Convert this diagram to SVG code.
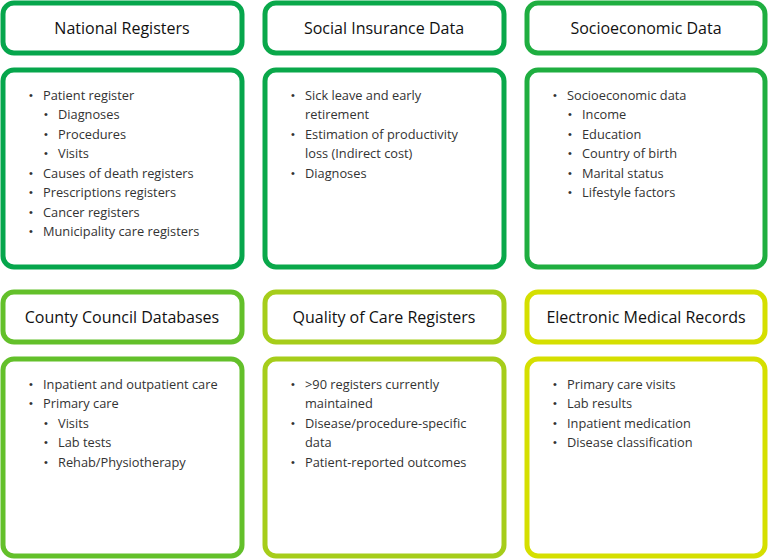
<svg xmlns="http://www.w3.org/2000/svg" width="768" height="559" viewBox="0 0 768 559">
<style>
rect{fill:#fff;stroke-width:5}
.h{font-family:"Open Sans",sans-serif;font-size:16px;fill:#111;text-anchor:middle}
.t{font-family:"Open Sans",sans-serif;font-size:12.8px;fill:#333}
.b{font-family:"Liberation Sans",sans-serif;font-size:11px;fill:#333}
</style>
<rect width="768" height="559" fill="#fff" stroke="none"/>
<g id="n1" stroke="#06a64c"><rect x="3" y="3" width="239" height="50" rx="11"/><rect x="3" y="70" width="239" height="197" rx="11"/></g>
<g id="n2" stroke="#0aa84a"><rect x="265" y="3" width="239" height="50" rx="11"/><rect x="265" y="70" width="239" height="197" rx="11"/></g>
<g id="n3" stroke="#1fae40"><rect x="527" y="3" width="238" height="50" rx="11"/><rect x="527" y="70" width="238" height="197" rx="11"/></g>
<g id="n4" stroke="#63c02a"><rect x="3" y="292" width="239" height="50" rx="11"/><rect x="3" y="359" width="239" height="197" rx="11"/></g>
<g id="n5" stroke="#a6cd1a"><rect x="265" y="292" width="239" height="50" rx="11"/><rect x="265" y="359" width="239" height="197" rx="11"/></g>
<g id="n6" stroke="#d5df00"><rect x="527" y="292" width="238" height="50" rx="11"/><rect x="527" y="359" width="238" height="197" rx="11"/></g>
<g id="connectors"/>
<g id="text">
<text class="h" x="122" y="34">National Registers</text>
<text class="h" x="384" y="34">Social Insurance Data</text>
<text class="h" x="646" y="34">Socioeconomic Data</text>
<text class="h" x="122" y="323">County Council Databases</text>
<text class="h" x="384" y="323">Quality of Care Registers</text>
<text class="h" x="646" y="323">Electronic Medical Records</text>

<g class="b">
<text x="29" y="99">•</text><text x="44" y="118">•</text><text x="44" y="138">•</text><text x="44" y="157">•</text><text x="29" y="177">•</text><text x="29" y="196">•</text><text x="29" y="216">•</text><text x="29" y="235">•</text>
<text x="291" y="99">•</text><text x="291" y="138">•</text><text x="291" y="177">•</text>
<text x="553" y="99">•</text><text x="568" y="118">•</text><text x="568" y="138">•</text><text x="568" y="157">•</text><text x="568" y="177">•</text><text x="568" y="196">•</text>
<text x="29" y="388">•</text><text x="29" y="407">•</text><text x="44" y="427">•</text><text x="44" y="446">•</text><text x="44" y="466">•</text>
<text x="291" y="388">•</text><text x="291" y="427">•</text><text x="291" y="466">•</text>
<text x="553" y="388">•</text><text x="553" y="407">•</text><text x="553" y="427">•</text><text x="553" y="446">•</text>
</g>
<g class="t">
<text x="43" y="100">Patient register</text><text x="58" y="119">Diagnoses</text><text x="58" y="139">Procedures</text><text x="58" y="158">Visits</text><text x="43" y="178">Causes of death registers</text><text x="43" y="197">Prescriptions registers</text><text x="43" y="217">Cancer registers</text><text x="43" y="236">Municipality care registers</text>
<text x="305" y="100">Sick leave and early</text><text x="305" y="119">retirement</text><text x="305" y="139">Estimation of productivity</text><text x="305" y="158">loss (Indirect cost)</text><text x="305" y="178">Diagnoses</text>
<text x="567" y="100">Socioeconomic data</text><text x="582" y="119">Income</text><text x="582" y="139">Education</text><text x="582" y="158">Country of birth</text><text x="582" y="178">Marital status</text><text x="582" y="197">Lifestyle factors</text>
<text x="43" y="389">Inpatient and outpatient care</text><text x="43" y="408">Primary care</text><text x="58" y="428">Visits</text><text x="58" y="447">Lab tests</text><text x="58" y="467">Rehab/Physiotherapy</text>
<text x="305" y="389">&gt;90 registers currently</text><text x="305" y="408">maintained</text><text x="305" y="428">Disease/procedure-specific</text><text x="305" y="447">data</text><text x="305" y="467">Patient-reported outcomes</text>
<text x="567" y="389">Primary care visits</text><text x="567" y="408">Lab results</text><text x="567" y="428">Inpatient medication</text><text x="567" y="447">Disease classification</text>
</g>
</g>
</svg>
